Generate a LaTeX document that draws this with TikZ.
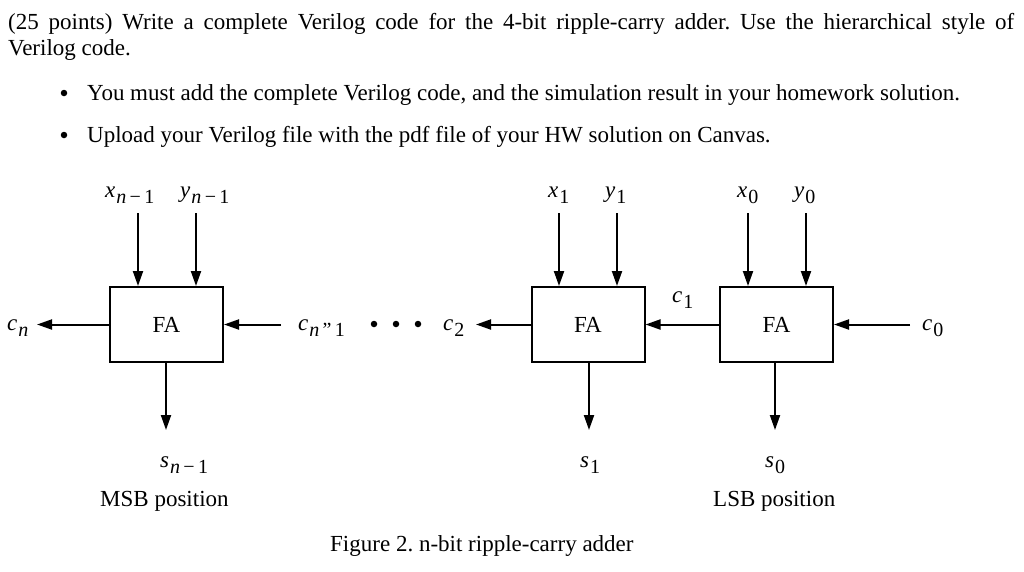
\documentclass[tikz,border=0pt]{standalone}
\usepackage{fontspec}
\setmainfont{Liberation Serif}
\usetikzlibrary{arrows.meta}
\newcommand\mysub[2]{\textit{#1}\kern1pt\raisebox{-0.3em}{\fontsize{20}{20}\selectfont #2}}
\frenchspacing
\begin{document}
\begin{tikzpicture}[x=1pt,y=-1pt,
  txt/.style={font=\fontsize{23}{28}\selectfont, inner sep=0pt, anchor=base west},
  fa/.style={draw, line width=2pt, minimum width=113pt, minimum height=75pt, inner sep=0pt, font=\fontsize{23}{26}\selectfont},
  wire/.style={line width=2pt, -{Triangle[length=15pt,width=10pt]}},
  lbl/.style={font=\fontsize{23}{26}\selectfont, inner sep=0pt, anchor=base west},
  dot/.style={circle, fill, inner sep=0pt, minimum size=6.5pt}]
\useasboundingbox (0,0) rectangle (1024,571);
% text
\node[txt] (h1) at (8,29) {\makebox[1006pt][s]{(25 points) Write a complete Verilog code for the 4-bit ripple-carry adder. Use the hierarchical style of}};
\node[txt] (h2) at (8,55) {Verilog code.};
\node[txt] (b1) at (87,100) {You must add the complete Verilog code, and the simulation result in your homework solution.};
\node[txt] (b2) at (87,142) {Upload your Verilog file with the pdf file of your HW solution on Canvas.};
\node[dot] (d1) at (64,93) {};
\node[dot] (d2) at (64,135) {};
% boxes
\node[fa] (fa1) at (166.5,324.5) {FA};
\node[fa] (fa2) at (588,324.5) {FA};
\node[fa] (fa3) at (776.5,324.5) {FA};
% input labels
\node[lbl] (lx2) at (105,197) {\mysub{x}{\textit{n}\,−\,1}};
\node[lbl] (ly2) at (180,197) {\mysub{y}{\textit{n}\,−\,1}};
\node[lbl] (lx1) at (548,197) {\mysub{x}{1}};
\node[lbl] (ly1) at (605,197) {\mysub{y}{1}};
\node[lbl] (lx0) at (737,197) {\mysub{x}{0}};
\node[lbl] (ly0) at (794,197) {\mysub{y}{0}};
% input arrows
\coordinate (ix2) at (138,213);
\coordinate (iy2) at (196,213);
\coordinate (ix1) at (559,213);
\coordinate (iy1) at (617,213);
\coordinate (ix0) at (748,213);
\coordinate (iy0) at (806,213);
\draw[wire] (ix2) -- (ix2 |- fa1.north);
\draw[wire] (iy2) -- (iy2 |- fa1.north);
\draw[wire] (ix1) -- (ix1 |- fa2.north);
\draw[wire] (iy1) -- (iy1 |- fa2.north);
\draw[wire] (ix0) -- (ix0 |- fa3.north);
\draw[wire] (iy0) -- (iy0 |- fa3.north);
% carry labels
\node[lbl] (lcn) at (7,330) {\mysub{c}{\textit{n}}};
\node[lbl] (lcn1) at (298,330) {\mysub{c}{\textit{n}\,”\,1}};
\node[lbl] (lc2) at (443,330) {\mysub{c}{2}};
\node[lbl] (lc1) at (672,302) {\mysub{c}{1}};
\node[lbl] (lc0) at (922,330) {\mysub{c}{0}};
\node[dot] (e1) at (374,324) {};
\node[dot] (e2) at (396,324) {};
\node[dot] (e3) at (418,324) {};
% carry arrows
\coordinate (cnE) at (37,324.5);
\coordinate (cn1S) at (281,324.5);
\coordinate (c2E) at (476,324.5);
\coordinate (c0S) at (910,324.5);
\draw[wire] (fa1.west) -- (cnE);
\draw[wire] (cn1S) -- (fa1.east);
\draw[wire] (fa2.west) -- (c2E);
\draw[wire] (fa3.west) -- (fa2.east);
\draw[wire] (c0S) -- (fa3.east);
% outputs
\coordinate (o2) at (166,430);
\coordinate (o1) at (589,430);
\coordinate (o0) at (775,430);
\draw[wire] (o2 |- fa1.south) -- (o2);
\draw[wire] (o1 |- fa2.south) -- (o1);
\draw[wire] (o0 |- fa3.south) -- (o0);
\node[lbl] (ls2) at (160,467) {\mysub{s}{\textit{n}\,−\,1}};
\node[lbl] (ls1) at (580,467) {\mysub{s}{1}};
\node[lbl] (ls0) at (765,467) {\mysub{s}{0}};
\node[txt] (msb) at (100,506) {MSB position};
\node[txt] (lsb) at (713,506) {LSB position};
\node[txt] (cap) at (330,551) {Figure 2. n-bit ripple-carry adder};
\end{tikzpicture}
\end{document}
